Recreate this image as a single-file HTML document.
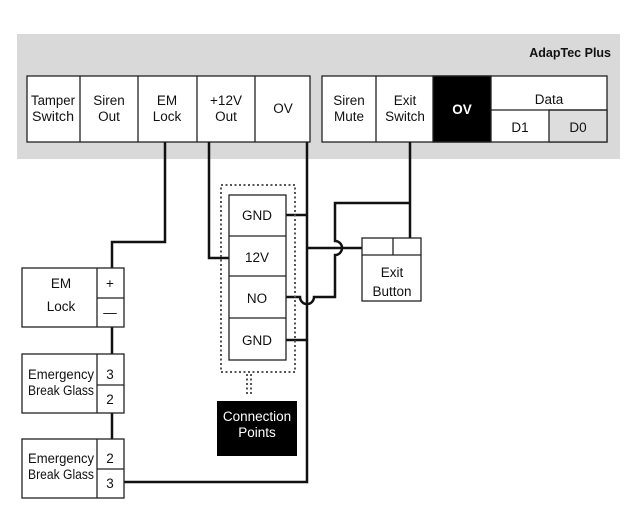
<!DOCTYPE html>
<html><head><style>
body{margin:0;background:#fff;}
svg text{font-family:"Liberation Sans",sans-serif;font-size:13.5px;fill:#111;}
</style></head><body>
<svg width="637" height="513" viewBox="0 0 637 513" xmlns="http://www.w3.org/2000/svg">
<rect x="17" y="34" width="603" height="125" fill="#d9d9d9"/>
<text x="611" y="57" text-anchor="end" style="font-weight:bold;font-size:12.5px">AdapTec Plus</text>
<g stroke="#222" stroke-width="1.3" fill="#fff">
<rect x="27" y="76" width="283" height="66"/>
<line x1="80" y1="76" x2="80" y2="142"/><line x1="138" y1="76" x2="138" y2="142"/>
<line x1="197" y1="76" x2="197" y2="142"/><line x1="255" y1="76" x2="255" y2="142"/>
<rect x="322" y="76" width="285" height="66"/>
<line x1="376" y1="76" x2="376" y2="142"/>
<rect x="433" y="76" width="58" height="66" fill="#000"/>
<rect x="549" y="110" width="58" height="32" fill="#ddd"/>
<line x1="491" y1="110" x2="607" y2="110"/>
</g>
<g text-anchor="middle">
<text x="53" y="105" textLength="44" lengthAdjust="spacingAndGlyphs">Tamper</text><text x="53" y="121" textLength="42" lengthAdjust="spacingAndGlyphs">Switch</text>
<text x="109" y="105">Siren</text><text x="109" y="121">Out</text>
<text x="167" y="105">EM</text><text x="167" y="121">Lock</text>
<text x="226" y="105">+12V</text><text x="226" y="121">Out</text>
<text x="283" y="113">OV</text>
<text x="349" y="105">Siren</text><text x="349" y="121">Mute</text>
<text x="405" y="105">Exit</text><text x="405" y="121">Switch</text>
<text x="462" y="114" style="fill:#fff;font-weight:bold">OV</text>
<text x="549" y="104">Data</text>
<text x="520" y="132">D1</text><text x="578" y="132">D0</text>
</g>
<g stroke="#111" stroke-width="2.5" fill="none">
<path d="M165 142 V242 H112 V268"/>
<path d="M209 142 V258 H229"/>
<path d="M307 142 V482 H124"/>
<path d="M286 215 H307 M286 340 H307"/>
<path d="M410 142 V238"/>
<path d="M286 297 H300 A7 7 0 0 0 314 297 H335 V255 A7 7 0 0 0 335 241 V203 H410"/>
<path d="M307 248 H362"/>
<path d="M112 327 V354 M112 413 V439"/>
</g>
<g stroke="#555" stroke-width="2" stroke-dasharray="2,2.5" fill="none">
<rect x="221" y="185" width="74" height="187"/>
<line x1="247" y1="374" x2="247" y2="396"/><line x1="251" y1="374" x2="251" y2="396"/>
</g>
<g stroke="#222" stroke-width="1.3" fill="#fff">
<rect x="229" y="195" width="57" height="165"/>
<line x1="229" y1="236" x2="286" y2="236"/><line x1="229" y1="276" x2="286" y2="276"/><line x1="229" y1="318" x2="286" y2="318"/>
<rect x="362" y="238" width="59" height="63"/>
<line x1="362" y1="255" x2="421" y2="255"/><line x1="393" y1="238" x2="393" y2="255"/>
<rect x="22" y="268" width="102" height="59"/><line x1="97" y1="268" x2="97" y2="327"/><line x1="97" y1="298" x2="124" y2="298"/>
<rect x="22" y="354" width="102" height="59"/><line x1="97" y1="354" x2="97" y2="413"/><line x1="97" y1="385" x2="124" y2="385"/>
<rect x="22" y="439" width="102" height="59"/><line x1="97" y1="439" x2="97" y2="498"/><line x1="97" y1="469" x2="124" y2="469"/>
</g>
<rect x="217" y="401" width="80" height="55" fill="#000"/>
<g text-anchor="middle">
<text x="257" y="220">GND</text><text x="257" y="262">12V</text><text x="257" y="303">NO</text><text x="257" y="345">GND</text>
<text x="392" y="277">Exit</text><text x="392" y="296">Button</text>
<text x="61" y="288">EM</text><text x="61" y="311">Lock</text>
<text x="110" y="288">+</text><text x="110" y="317">—</text>
<text x="61" y="379" textLength="66" lengthAdjust="spacingAndGlyphs">Emergency</text><text x="61" y="395" textLength="66" lengthAdjust="spacingAndGlyphs">Break Glass</text>
<text x="110" y="379">3</text><text x="110" y="404">2</text>
<text x="61" y="463" textLength="66" lengthAdjust="spacingAndGlyphs">Emergency</text><text x="61" y="479" textLength="66" lengthAdjust="spacingAndGlyphs">Break Glass</text>
<text x="110" y="463">2</text><text x="110" y="488">3</text>
<text x="257" y="421" style="fill:#fff">Connection</text><text x="257" y="437" style="fill:#fff">Points</text>
</g>
</svg>
</body></html>
